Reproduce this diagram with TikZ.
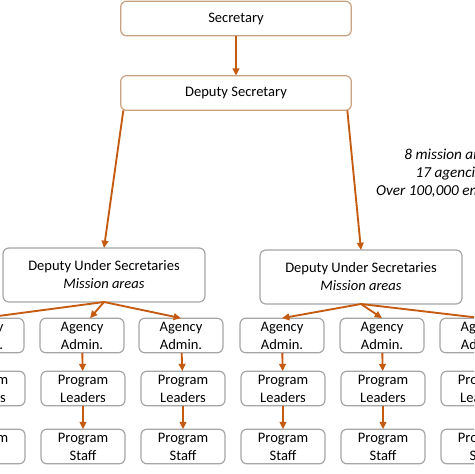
\documentclass[tikz,border=0pt]{standalone}
\usepackage{fontspec}
\setmainfont{Carlito}
\usetikzlibrary{arrows.meta}
\definecolor{linkorange}{HTML}{C55A11}
\definecolor{topborder}{HTML}{C9A27E}
\definecolor{boxgray}{HTML}{A6A6A6}
\begin{document}
\begin{tikzpicture}[x=0.75pt,y=-0.75pt,
  >={Triangle[length=5.5pt,width=5pt]},
  unit/.style={draw=boxgray,line width=0.9pt,rounded corners=4.5pt,fill=white,
    align=center,inner sep=0pt,outer sep=0pt,
    font=\fontsize{10.9}{13.5}\selectfont},
  topunit/.style={unit,draw=topborder,minimum width=173pt,minimum height=26pt},
  dusunit/.style={unit,minimum width=151.5pt,minimum height=40.5pt},
  smallunit/.style={unit,minimum width=63pt,minimum height=26pt},
  link/.style={draw=linkorange,line width=1.4pt}]
\useasboundingbox (0,0) rectangle (474,474);
\clip (0,0) rectangle (474,474);
\fill[white] (0,0) rectangle (474,474);
\node[topunit] (sec) at (236,18.5) {Secretary};
\node[topunit] (dsec) at (236,93) {Deputy Secretary};
\node[dusunit] (dusl) at (104,275) {Deputy Under Secretaries\\\textit{Mission areas}};
\node[dusunit] (dusr) at (361,277) {Deputy Under Secretaries\\\textit{Mission areas}};
% agency row
\node[smallunit] (adm1) at (-18,335.5) {Agency\\Admin.};
\node[smallunit] (adm2) at (82,335.5) {Agency\\Admin.};
\node[smallunit] (adm3) at (181,335.5) {Agency\\Admin.};
\node[smallunit] (adm4) at (282,335.5) {Agency\\Admin.};
\node[smallunit] (adm5) at (382,335.5) {Agency\\Admin.};
\node[smallunit] (adm6) at (482,335.5) {Agency\\Admin.};
% leaders row
\node[smallunit] (lead1) at (-17,388.5) {Program\\Leaders};
\node[smallunit] (lead2) at (83,388.5) {Program\\Leaders};
\node[smallunit] (lead3) at (183,388.5) {Program\\Leaders};
\node[smallunit] (lead4) at (283,388.5) {Program\\Leaders};
\node[smallunit] (lead5) at (383,388.5) {Program\\Leaders};
\node[smallunit] (lead6) at (483,388.5) {Program\\Leaders};
% staff row
\node[smallunit] (staff1) at (-17,446.5) {Program\\Staff};
\node[smallunit] (staff2) at (83,446.5) {Program\\Staff};
\node[smallunit] (staff3) at (183,446.5) {Program\\Staff};
\node[smallunit] (staff4) at (283,446.5) {Program\\Staff};
\node[smallunit] (staff5) at (383,446.5) {Program\\Staff};
\node[smallunit] (staff6) at (483,446.5) {Program\\Staff};
\node[align=center,font=\fontsize{11.4}{13.5}\selectfont\itshape] (facts) at (452,173)
  {8 mission areas\\17 agencies\\Over 100,000 employees};
\draw[link,->] (sec) -- (dsec);
\draw[link,->] ([xshift=2pt]dsec.south west) -- (dusl.north);
\draw[link,->] ([xshift=-3pt]dsec.south east) -- (dusr.north);
\draw[link,->] (dusl.south) -- (adm1.north);
\draw[link,->] (dusl.south) -- ([xshift=6pt]adm2.north);
\draw[link,->] (dusl.south) -- (adm3.north);
\draw[link,->] (dusr.south) -- (adm4.north);
\draw[link,->] (dusr.south) -- (adm5.north);
\draw[link,->] (dusr.south) -- (adm6.north);
\draw[link,->] (adm2) -- (lead2);
\draw[link,->] (adm3) -- (lead3);
\draw[link,->] (adm4) -- (lead4);
\draw[link,->] (adm5) -- (lead5);
\draw[link,->] (lead2) -- (staff2);
\draw[link,->] (lead3) -- (staff3);
\draw[link,->] (lead4) -- (staff4);
\draw[link,->] (lead5) -- (staff5);
\end{tikzpicture}
\end{document}
